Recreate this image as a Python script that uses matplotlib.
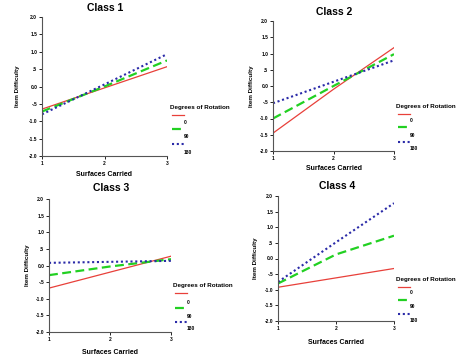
import matplotlib
matplotlib.use('Agg')
import matplotlib.pyplot as plt
from matplotlib.lines import Line2D

plt.rcParams['font.family'] = ['Liberation Sans', 'DejaVu Sans']
plt.rcParams['font.weight'] = 'bold'

# 数据: 每个班级在 x = 1, 2, 3 上的三条线
surfaces = [1, 2, 3]
degrees = ['0', '90', '180']
class_names = ['Class 1', 'Class 2', 'Class 3', 'Class 4']

class1_0 = [-0.65, -0.04, 0.57]
class1_90 = [-0.72, 0.0, 0.75]
class1_180 = [-0.8, 0.06, 0.93]

class2_0 = [-1.45, -0.1, 1.18]
class2_90 = [-1.0, 0.0, 0.98]
class2_180 = [-0.53, 0.13, 0.79]

class3_0 = [-0.68, -0.2, 0.28]
class3_90 = [-0.29, -0.03, 0.19]
class3_180 = [0.08, 0.11, 0.14]

class4_0 = [-0.92, -0.62, -0.32]
class4_90 = [-0.8, 0.13, 0.73]
class4_180 = [-0.75, 0.52, 1.77]

series = [
    (class1_0, class1_90, class1_180),
    (class2_0, class2_90, class2_180),
    (class3_0, class3_90, class3_180),
    (class4_0, class4_90, class4_180),
]

yticks = [2.0, 1.5, 1.0, 0.5, 0.0, -0.5, -1.0, -1.5, -2.0]
ytick_labels = ['2.0', '1.5', '1.0', '.5', '0.0', '-.5', '-1.0', '-1.5', '-2.0']

# 线型
styles = [
    dict(color='#e8403a', linestyle='-', linewidth=0.9),
    dict(color='#22d022', linestyle=(0, (4, 2)), linewidth=1.6),
    dict(color='#2a2aa8', linestyle=(0, (1, 1.3)), linewidth=1.5),
]

W, H = 474, 355
fig = plt.figure(figsize=(W / 100, H / 100), dpi=100)

# 每个面板的像素位置: 左, 右, 上, 下
boxes = [(42, 167, 17, 156), (273, 394, 21, 151), (49, 171, 199, 332), (278, 394, 196, 321)]
# 标题位置
titles = [(105, 8), (334, 12), (111, 188), (337, 186)]
# 图例位置: 标题 x, 标题 y, 线条 y, 标签 y
legends = [
    (170, 107, [115, 129, 144], [122, 137, 153]),
    (396, 106, [114, 127, 142], [120, 136, 148]),
    (173, 286, [293, 308, 322], [302, 316, 329]),
    (396, 279, [287, 300, 314], [293, 307, 321]),
]
xlabel_y = [175, 169, 352, 342]
ylabel_x = [18, 252, 27, 256]

for k in range(4):
    l, r, t, b = boxes[k]
    ax = fig.add_axes([l / W, 1 - b / H, (r - l) / W, (b - t) / H])
    for vals, st in zip(series[k], styles):
        ax.plot(surfaces, vals, **st)
    ax.set_xlim(1, 3)
    ax.set_ylim(-2, 2)
    ax.set_xticks(surfaces)
    ax.set_xticklabels(['1', '2', '3'], fontsize=3.5, fontweight='bold')
    ax.set_yticks(yticks)
    ax.set_yticklabels(ytick_labels, fontsize=3.5, fontweight='bold')
    ax.tick_params(length=2, width=0.6, pad=1.5)
    for s in ['top', 'right']:
        ax.spines[s].set_visible(False)
    for s in ['left', 'bottom']:
        ax.spines[s].set_linewidth(0.8)
        ax.spines[s].set_color('#555555')

    tx, ty = titles[k]
    fig.text(tx / W, 1 - ty / H, class_names[k], fontsize=7.5, fontweight='bold',
             ha='center', va='center')
    fig.text((l + r) / 2 / W, 1 - xlabel_y[k] / H, 'Surfaces Carried', fontsize=5,
             fontweight='bold', ha='center', va='center')
    fig.text(ylabel_x[k] / W, 1 - (t + b) / 2 / H, 'Item Difficulty', fontsize=4.5,
             fontweight='bold', ha='center', va='center', rotation=90)

    lx, ly, line_y, lab_y = legends[k]
    fig.text(lx / W, 1 - ly / H, 'Degrees of Rotation', fontsize=4.5,
             fontweight='bold', ha='left', va='center')
    for j in range(3):
        fig.add_artist(Line2D([(lx + 2) / W, (lx + 14) / W],
                              [1 - line_y[j] / H, 1 - line_y[j] / H], **styles[j]))
        fig.text((lx + 14) / W, 1 - lab_y[j] / H, degrees[j], fontsize=3.5,
                 fontweight='bold', ha='left', va='center')

fig.savefig('out.png', dpi=100)
